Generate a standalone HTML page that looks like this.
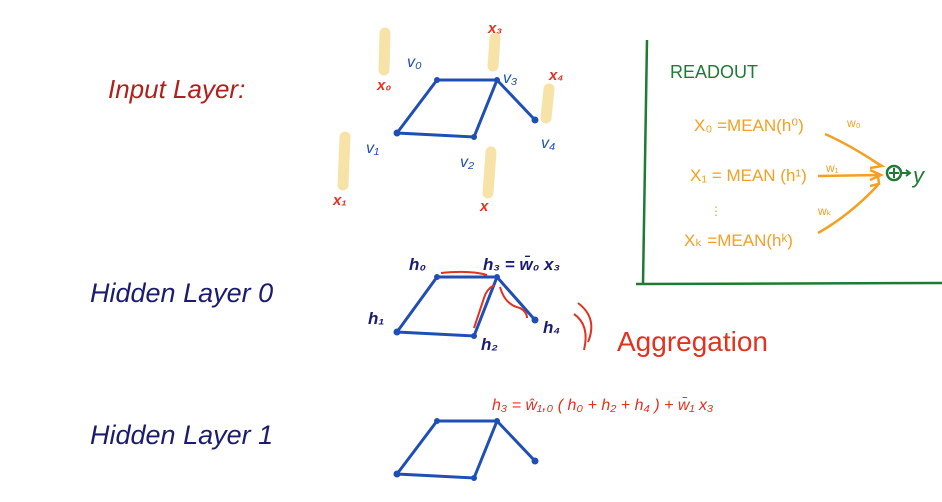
<!DOCTYPE html>
<html><head><meta charset="utf-8"><style>
body{margin:0;background:#fff;}
svg{display:block;}
text{font-family:"Liberation Sans",sans-serif;}
</style></head><body>
<svg width="942" height="502" viewBox="0 0 942 502" xmlns="http://www.w3.org/2000/svg">
<rect width="942" height="502" fill="#fff"/>
<text x="108" y="98" font-size="26" fill="#b0201c" font-style="italic">Input Layer:</text>
<text x="90" y="302" font-size="27" fill="#1a1d6e" font-style="italic">Hidden Layer 0</text>
<text x="90" y="444" font-size="27" fill="#1a1d6e" font-style="italic">Hidden Layer 1</text>
<g stroke="#f7e3a8" stroke-width="11" stroke-linecap="round">
<line x1="385" y1="33" x2="384" y2="70"/>
<line x1="495" y1="38" x2="493" y2="66"/>
<line x1="549" y1="89" x2="546" y2="118"/>
<line x1="345" y1="137" x2="343" y2="185"/>
<line x1="491" y1="152" x2="488" y2="193"/>
</g>
<g fill="#e3321f" font-size="15" font-style="italic" font-weight="bold">
<text x="377" y="90">x₀</text><text x="488" y="33">x₃</text><text x="549" y="80">x₄</text>
<text x="333" y="205">x₁</text><text x="480" y="211">x</text>
</g>
<g fill="#1f4fb5" font-size="16" font-style="italic">
<text x="407" y="67">v₀</text><text x="503" y="83">v₃</text><text x="541" y="148">v₄</text>
<text x="366" y="153">v₁</text><text x="460" y="167">v₂</text>
</g>
<g stroke="#1f4fb5" stroke-width="3" fill="none" stroke-linecap="round">
<path d="M437 80 L497 80 L474 137 L397 133 Z M497 80 L535 120"/>
<path d="M437 277 L497 277 L474 336 L397 332 Z M497 277 L535 320"/>
<path d="M437 421 L497 421 L474 478 L397 474 Z M497 421 L535 461"/>
</g>
<g fill="#1f4fb5">
<circle cx="437" cy="80" r="3"/><circle cx="497" cy="80" r="3"/><circle cx="474" cy="137" r="3"/><circle cx="397" cy="133" r="3.5"/><circle cx="535" cy="120" r="3.5"/>
<circle cx="437" cy="277" r="3"/><circle cx="497" cy="277" r="3"/><circle cx="474" cy="336" r="3"/><circle cx="397" cy="332" r="3.5"/><circle cx="535" cy="320" r="3.5"/>
<circle cx="437" cy="421" r="3"/><circle cx="497" cy="421" r="3"/><circle cx="474" cy="478" r="3"/><circle cx="397" cy="474" r="3.5"/><circle cx="535" cy="461" r="3.5"/>
</g>
<g stroke="#e3321f" stroke-width="2" fill="none">
<path d="M441 273 Q470 270 487 275"/>
<path d="M494 285 Q486 290 484 298 L474 328"/>
<path d="M500 287 Q505 305 520 308 Q527 312 527 318"/>
<path d="M578 303 Q598 318 588 342"/>
<path d="M574 314 Q590 325 584 350"/>
</g>
<g fill="#1a1d6e" font-size="17" font-style="italic" font-weight="bold">
<text x="409" y="270">h₀</text><text x="483" y="270">h₃ = w̄₀ x₃</text>
<text x="368" y="324">h₁</text><text x="481" y="350">h₂</text><text x="543" y="333">h₄</text>
</g>
<text x="617" y="351" font-size="28" fill="#e3321f">Aggregation</text>
<text x="492" y="410" font-size="16" fill="#e3321f" font-style="italic">h₃ = ŵ₁,₀ ( h₀ + h₂ + h₄ ) + w̄₁ x₃</text>
<g stroke="#1e7a35" stroke-width="2.5" fill="none">
<line x1="647" y1="40" x2="643" y2="284"/>
<line x1="636" y1="284" x2="942" y2="283"/>
</g>
<text x="670" y="78" font-size="18" fill="#1e7a35">READOUT</text>
<g fill="#f4a020" font-size="17">
<text x="694" y="131">X₀ =MEAN(h⁰)</text>
<text x="690" y="181">X₁ = MEAN (h¹)</text>
<text x="710" y="215" font-size="12">⋮</text>
<text x="684" y="246">Xₖ =MEAN(hᵏ)</text>
<text x="847" y="127" font-size="12">w₀</text>
<text x="826" y="172" font-size="12">w₁</text>
<text x="818" y="215" font-size="12">wₖ</text>
</g>
<g stroke="#f4a020" stroke-width="2.5" fill="none">
<path d="M825 134 Q850 145 880 165"/>
<path d="M818 176 L880 175"/>
<path d="M818 233 Q850 215 878 185"/>
<path d="M872 160 L882 166 L870 168 M870 170 L881 175 L870 180 M870 186 L879 184 L878 176"/>
</g>
<circle cx="894" cy="173" r="7" stroke="#1e7a35" stroke-width="2.5" fill="none"/>
<path d="M889 173 H899 M894 168 V178 M901 173 H910 M906 170 L910 173 L906 176" stroke="#1e7a35" stroke-width="2" fill="none"/>
<text x="913" y="183" font-size="22" fill="#1e7a35" font-style="italic">y</text>
</svg>
</body></html>
